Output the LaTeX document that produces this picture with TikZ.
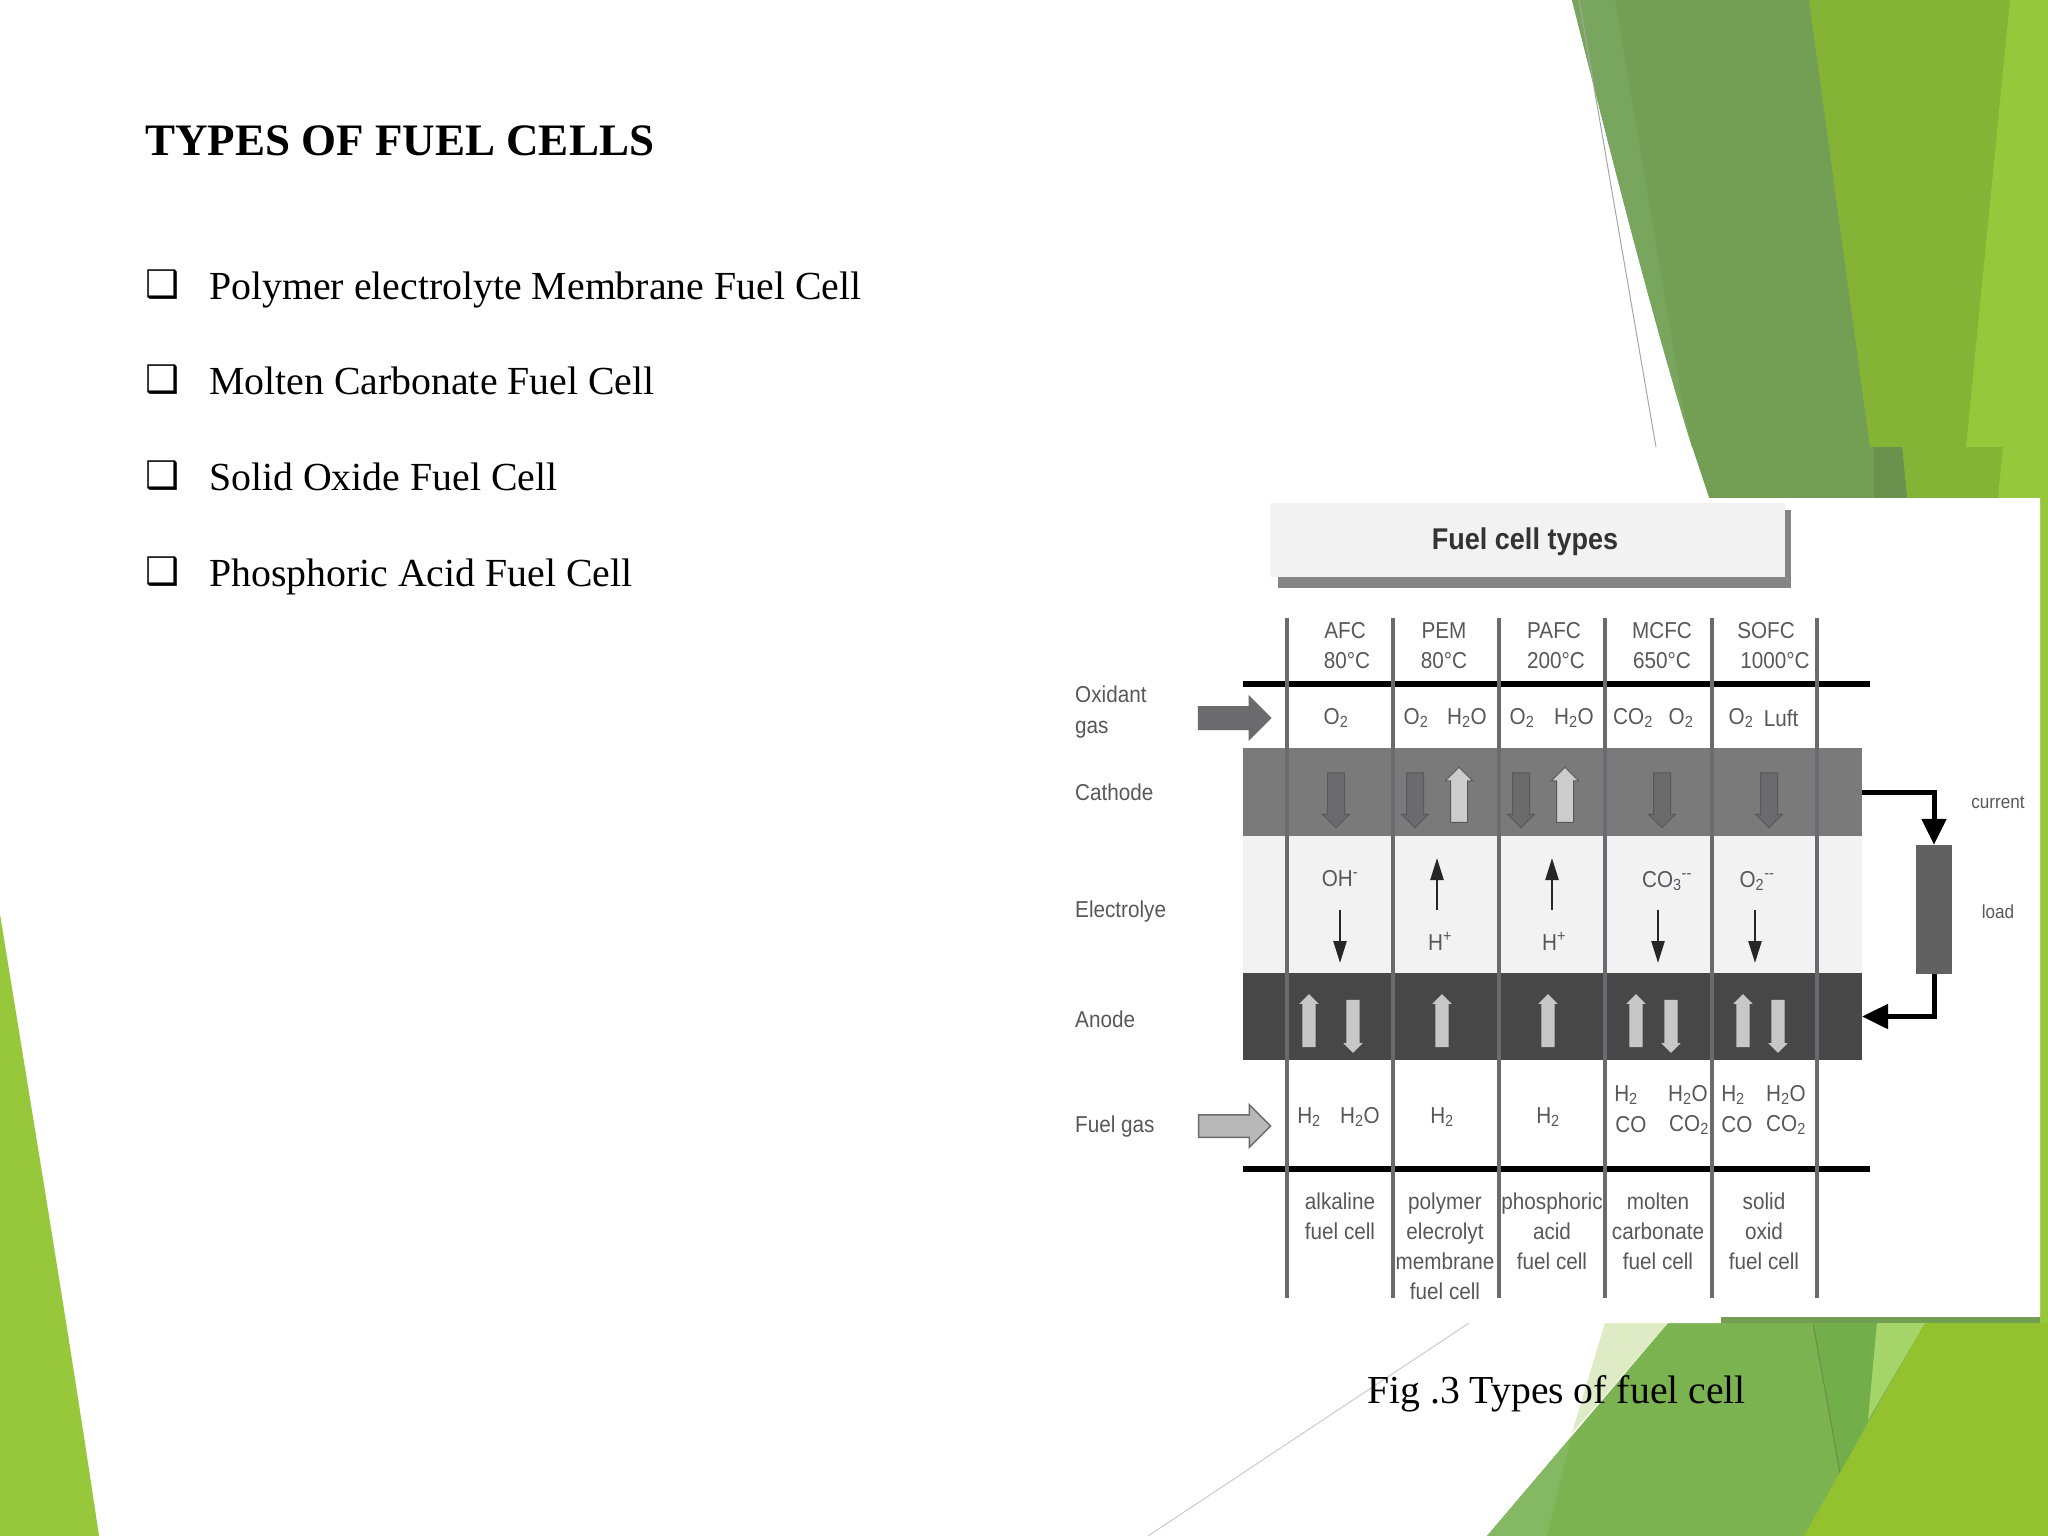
\documentclass[tikz,border=0pt]{standalone}
\usepackage{fontspec}
\setmainfont{Liberation Serif}
\newfontfamily\figfont[FakeStretch=0.9]{Liberation Sans}
\newfontfamily\boxfont{DejaVu Sans}
\usetikzlibrary{arrows.meta, positioning, shapes.arrows}
\definecolor{leafdark}{HTML}{739F55}
\definecolor{leafpale}{HTML}{79A65F}
\definecolor{leafbright}{HTML}{85B335}
\definecolor{leaflight}{HTML}{97C83C}
\definecolor{leafmain}{HTML}{7BB350}
\definecolor{leafblush}{HTML}{DFEBC4}
\definecolor{leafstrip}{HTML}{85B862}
\definecolor{leafshade}{HTML}{72AE4A}
\definecolor{leafsoft}{HTML}{A5D468}
\definecolor{leaflime}{HTML}{93C22E}
\definecolor{inkgray}{HTML}{58585A}
\definecolor{rulegray}{HTML}{6B6B6D}
\tikzset{
    title text/.style={anchor=base west, inner sep=0, font=\fontsize{45}{50}\selectfont\bfseries},
    item text/.style={anchor=base west, inner sep=0, font=\fontsize{39.8}{48}\selectfont},
    item box/.style={anchor=base west, inner sep=0, font=\boxfont\bfseries\fontsize{38}{40}\selectfont},
    cap text/.style={anchor=base west, inner sep=0, font=\fontsize{39.7}{48}\selectfont},
    cell text/.style={inner sep=0, text=inkgray, align=center, font=\figfont\fontsize{23}{30}\selectfont},
    side text/.style={anchor=west, inner sep=0, text=inkgray, align=left, font=\figfont\fontsize{23}{31}\selectfont},
    small text/.style={inner sep=0, text=inkgray, font=\figfont\fontsize{19}{22}\selectfont},
    band/.style={rectangle, inner sep=0, outer sep=0, minimum width=619pt, minimum height=#1},
    big arrow/.style={single arrow, inner sep=10.5pt, minimum height=72pt, single arrow head extend=10pt, single arrow head indent=0pt, line width=1.5pt},
    down arrow/.style={single arrow, shape border rotate=270, inner sep=8pt, minimum height=55pt, single arrow head extend=5pt, fill=rulegray, draw=inkgray, line width=1pt},
    up arrow/.style={single arrow, shape border rotate=90, inner sep=8pt, minimum height=55pt, single arrow head extend=5pt, fill=black!20, draw=inkgray, line width=1pt},
    anode up/.style={single arrow, shape border rotate=90, inner sep=6.5pt, minimum height=53pt, single arrow head extend=3pt, fill=black!22},
    anode down/.style={single arrow, shape border rotate=270, inner sep=6.5pt, minimum height=53pt, single arrow head extend=3pt, fill=black!22},
    ion/.style={line width=2.5pt, black!85, -{Triangle[length=22pt, width=13pt]}},
    circuit/.style={line width=5pt, black, -{Triangle[length=26pt, width=24pt]}}
}
\newcommand{\lowered}[1]{\textsubscript{#1}}
\begin{document}
\begin{tikzpicture}[x=1pt, y=-1pt]
    \useasboundingbox (0,0) rectangle (2048,1536);
    \fill[white] (0,0) rectangle (2048,1536);

    % slide decoration
    \fill[leaflight] (0,914) .. controls (30,1100) and (70,1340) .. (99,1536) -- (0,1536) -- cycle;
    \fill[leafdark] (1572,0) .. controls (1610,150) and (1650,310) .. (1692,447) -- (1709,498) -- (2048,498) -- (2048,0) -- cycle;
    \fill[leafpale] (1572,0) .. controls (1610,150) and (1650,310) .. (1692,447) -- (1682,400) -- (1615,0) -- cycle;
    \fill[leafbright] (1809,0) -- (1870,447) -- (1902,447) -- (1907,498) -- (2048,498) -- (2048,0) -- cycle;
    \fill[leafdark!92!black] (1874,447) -- (1902,447) -- (1907,498) -- (1874,498) -- cycle;
    \fill[leaflight] (2010,0) -- (1966,447) -- (2003,447) -- (1998,498) -- (2048,498) -- (2048,0) -- cycle;
    \fill[leaflight] (2040,498) rectangle (2048,1323);
    \draw[black!35, line width=1pt] (1579,0) -- (1656,447);
    \draw[black!12, line width=1pt] (1675,447) -- (1682,498);

    \fill[leafmain] (1668,1323) -- (1487,1536) -- (2048,1536) -- (2048,1323) -- cycle;
    \fill[leafblush] (1605,1323) -- (1668,1323) -- (1572,1433) -- cycle;
    \fill[leafstrip] (1571,1437) -- (1487,1536) -- (1547,1536) -- cycle;
    \fill[leafshade] (1813,1323) -- (1877,1323) -- (1868,1420) -- (1840,1473) -- cycle;
    \fill[leafsoft] (1877,1323) -- (1925,1323) -- (1868,1420) -- cycle;
    \fill[leaflime] (1925,1323) -- (1804,1536) -- (2048,1536) -- (2048,1323) -- cycle;
    \draw[leafdark!90!black, line width=1pt] (1813,1323) -- (1840,1473);
    \draw[black!20, line width=1pt] (1469,1323) -- (1148,1536);

    % pasted figure background
    \fill[white] (1040,447) -- (1692,447) -- (1709,498) -- (2040,498) -- (2040,1317) -- (1721,1317) -- (1721,1323) -- (1040,1323) -- cycle;
    \fill[leafdark] (1721,1317) rectangle (2040,1323);

    % slide text
    \node[title text] (heading) at (145,156) {TYPES OF FUEL CELLS};
    \foreach \y/\t [count=\i] in {299/{Polymer electrolyte Membrane Fuel Cell}, 394/{Molten Carbonate Fuel Cell}, 490/{Solid Oxide Fuel Cell}, 586/{Phosphoric Acid Fuel Cell}} {
        \node[item box] (box\i) at (145,\y-2) {❑};
        \node[item text] (item\i) at (209,\y) {\t};
    }
    \node[cap text] (caption) at (1367,1403) {Fig .3 Types of fuel cell};

    % figure title
    \fill[black!48] (1278,577) rectangle (1791,588);
    \fill[black!48] (1785,510) rectangle (1791,588);
    \node[rectangle, fill=black!5, inner sep=0, minimum width=515pt, minimum height=74pt] (head box) at (1527.5,540) {};
    \node[inner sep=0, text=black!80, font=\figfont\bfseries\fontsize{30}{34}\selectfont] (head text) at (1525,542) {Fuel cell types};

    % layers
    \node[band=88pt, fill=black!52] (cathode) at (1552.5,792) {};
    \node[band=137pt, fill=black!5] (electrolyte) at (1552.5,904.5) {};
    \node[band=87pt, fill=black!72] (anode) at (1552.5,1016.5) {};

    \coordinate (top left) at (1243,684);
    \coordinate (top right) at (1870,684);
    \coordinate (low left) at (1243,1169);
    \coordinate (low right) at (1870,1169);
    \draw[line width=6pt, black] (top left) -- (top right);
    \draw[line width=6pt, black] (low left) -- (low right);

    \foreach \x [count=\i] in {1287,1393,1499,1605,1712,1817} {
        \coordinate (rule top\i) at (\x,618);
        \coordinate (rule end\i) at (\x,1298);
        \draw[line width=4.5pt, rulegray] (rule top\i) -- (rule end\i);
    }

    % column heads
    \foreach \x/\t [count=\i] in {1345/AFC, 1444/PEM, 1554/PAFC, 1662/MCFC, 1766/SOFC} {
        \node[cell text] (type\i) at (\x,631) {\t};
    }
    \foreach \x/\t [count=\i] in {1347/80°C, 1444/80°C, 1556/200°C, 1662/650°C, 1775/1000°C} {
        \node[cell text] (temp\i) at (\x,661) {\t};
    }

    % oxidant row
    \foreach \x/\t [count=\i] in {1336/{O\lowered{2}}, 1416/{O\lowered{2}}, 1467/{H\lowered{2}O}, 1522/{O\lowered{2}}, 1574/{H\lowered{2}O}, 1633/{CO\lowered{2}}, 1681/{O\lowered{2}}, 1741/{O\lowered{2}}, 1781/Luft} {
        \node[cell text] (oxid\i) at (\x,718) {\t};
    }

    % electrolyte row
    \node[cell text] (ion1) at (1340,879) {OH\textsuperscript{-}};
    \node[cell text] (ion2) at (1667,881) {CO\lowered{3}\textsuperscript{-{}-}};
    \node[cell text] (ion3) at (1757,881) {O\lowered{2}\textsuperscript{-{}-}};
    \node[cell text] (ion4) at (1440,941) {H\textsuperscript{+}};
    \node[cell text] (ion5) at (1554,941) {H\textsuperscript{+}};
    \foreach \x [count=\i] in {1340,1658,1755} {
        \coordinate (ion from\i) at (\x,910);
        \coordinate (ion to\i) at (\x,963);
        \draw[ion] (ion from\i) -- (ion to\i);
    }
    \foreach \x [count=\i] in {1437,1552} {
        \coordinate (hplus from\i) at (\x,910);
        \coordinate (hplus to\i) at (\x,858);
        \draw[ion] (hplus from\i) -- (hplus to\i);
    }

    % fuel row
    \foreach \x/\y/\t [count=\i] in {1309/1117/{H\lowered{2}}, 1360/1117/{H\lowered{2}O}, 1442/1117/{H\lowered{2}}, 1548/1117/{H\lowered{2}}, 1626/1095/{H\lowered{2}}, 1688/1095/{H\lowered{2}O}, 1631/1125/CO, 1689/1125/{CO\lowered{2}}, 1733/1095/{H\lowered{2}}, 1786/1095/{H\lowered{2}O}, 1737/1125/CO, 1786/1125/{CO\lowered{2}}} {
        \node[cell text] (fuel\i) at (\x,\y) {\t};
    }

    % cell names
    \node[cell text, anchor=north] (name1) at (1340,1193) {alkaline\\fuel cell};
    \node[cell text, anchor=north] (name2) at (1445,1193) {polymer\\elecrolyt\\membrane\\fuel cell};
    \node[cell text, anchor=north] (name3) at (1552,1193) {phosphoric\\acid\\fuel cell};
    \node[cell text, anchor=north] (name4) at (1658,1193) {molten\\carbonate\\fuel cell};
    \node[cell text, anchor=north] (name5) at (1764,1193) {solid\\oxid\\fuel cell};

    % layer arrows
    \foreach \x [count=\i] in {1336,1415,1521,1662,1769} {
        \node[down arrow] (cath down\i) at (\x,796) {};
    }
    \foreach \x [count=\i] in {1459,1565} {
        \node[up arrow] (cath up\i) at (\x,799) {};
    }
    \foreach \x [count=\i] in {1309,1442,1548,1636,1743} {
        \node[anode up] (an up\i) at (\x,1024) {};
    }
    \foreach \x [count=\i] in {1353,1671,1778} {
        \node[anode down] (an down\i) at (\x,1023) {};
    }

    % gas arrows and side labels
    \node[big arrow, fill=rulegray, draw=rulegray] (oxidant) at (1229,718) {};
    \node[big arrow, fill=black!28, draw=rulegray] (fuel) at (1229,1126) {};
    \node[side text] (lab oxid) at (1075,712) {Oxidant\\gas};
    \node[side text] (lab cath) at (1075,792) {Cathode};
    \node[side text] (lab elec) at (1075,912) {Electrolye};
    \node[side text] (lab anod) at (1075,1019) {Anode};
    \node[side text] (lab fuel) at (1075,1127) {Fuel gas};

    % external circuit
    \node[rectangle, fill=black!62, inner sep=0, minimum width=36pt, minimum height=129pt] (load) at (1934,909.5) {};
    \draw[circuit] (cathode.east) -| (load.north);
    \draw[circuit] (load.south) |- (anode.east);
    \node[small text] (current) at (1998,802) {current};
    \node[small text] (load text) at (1998,912) {load};
\end{tikzpicture}
\end{document}
